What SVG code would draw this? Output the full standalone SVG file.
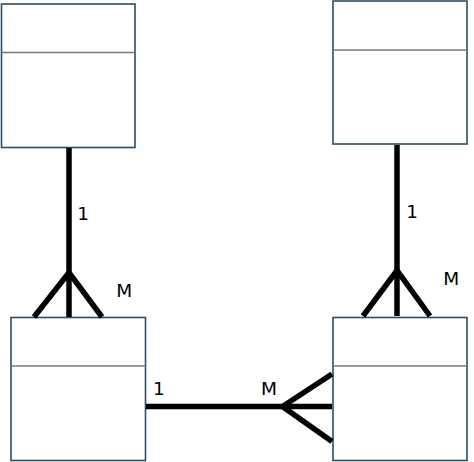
<svg xmlns="http://www.w3.org/2000/svg" width="474" height="462" viewBox="0 0 474 462">
<style>
.box{fill:#ffffff;stroke:#2b4f62;stroke-width:1.6}
.div{stroke:#7a7a7a;stroke-width:1.5}
.rel{stroke:#000000;stroke-width:5.5;fill:none;stroke-linecap:butt;stroke-linejoin:miter}
.lbl{font-family:"DejaVu Sans",sans-serif;font-size:18.5px;fill:#000000}
</style>
<rect width="474" height="462" fill="#ffffff"/>
<g id="entity-top-left">
<rect class="box" x="1.5" y="4" width="133.5" height="143.5"/>
<line class="div" x1="1.5" y1="52.5" x2="135" y2="52.5"/>
</g>
<g id="entity-top-right">
<rect class="box" x="333" y="1" width="134" height="143"/>
<line class="div" x1="333" y1="50" x2="467" y2="50"/>
</g>
<g id="entity-bottom-left">
<rect class="box" x="11" y="317.5" width="134.5" height="143"/>
<line class="div" x1="11" y1="366" x2="145.5" y2="366"/>
</g>
<g id="entity-bottom-right">
<rect class="box" x="333" y="317.5" width="134" height="143"/>
<line class="div" x1="333" y1="366" x2="467" y2="366"/>
</g>
<g id="connectors">
<line class="rel" x1="69" y1="148" x2="69" y2="317"/>
<polyline class="rel" points="34,317 69,272.5 102,317"/>
<line class="rel" x1="397" y1="145" x2="397" y2="316"/>
<polyline class="rel" points="363,316 397,270.5 430,316"/>
<line class="rel" x1="146" y1="406.5" x2="332" y2="406.5"/>
<polyline class="rel" points="332,374 282.5,406.5 332,441.5"/>
</g>
<g id="labels">
<text class="lbl" x="77.3" y="220">1</text>
<text class="lbl" x="116.2" y="297">M</text>
<text class="lbl" x="406.3" y="218.3">1</text>
<text class="lbl" x="443.2" y="285">M</text>
<text class="lbl" x="153" y="395">1</text>
<text class="lbl" x="260.9" y="395">M</text>
</g>
</svg>
